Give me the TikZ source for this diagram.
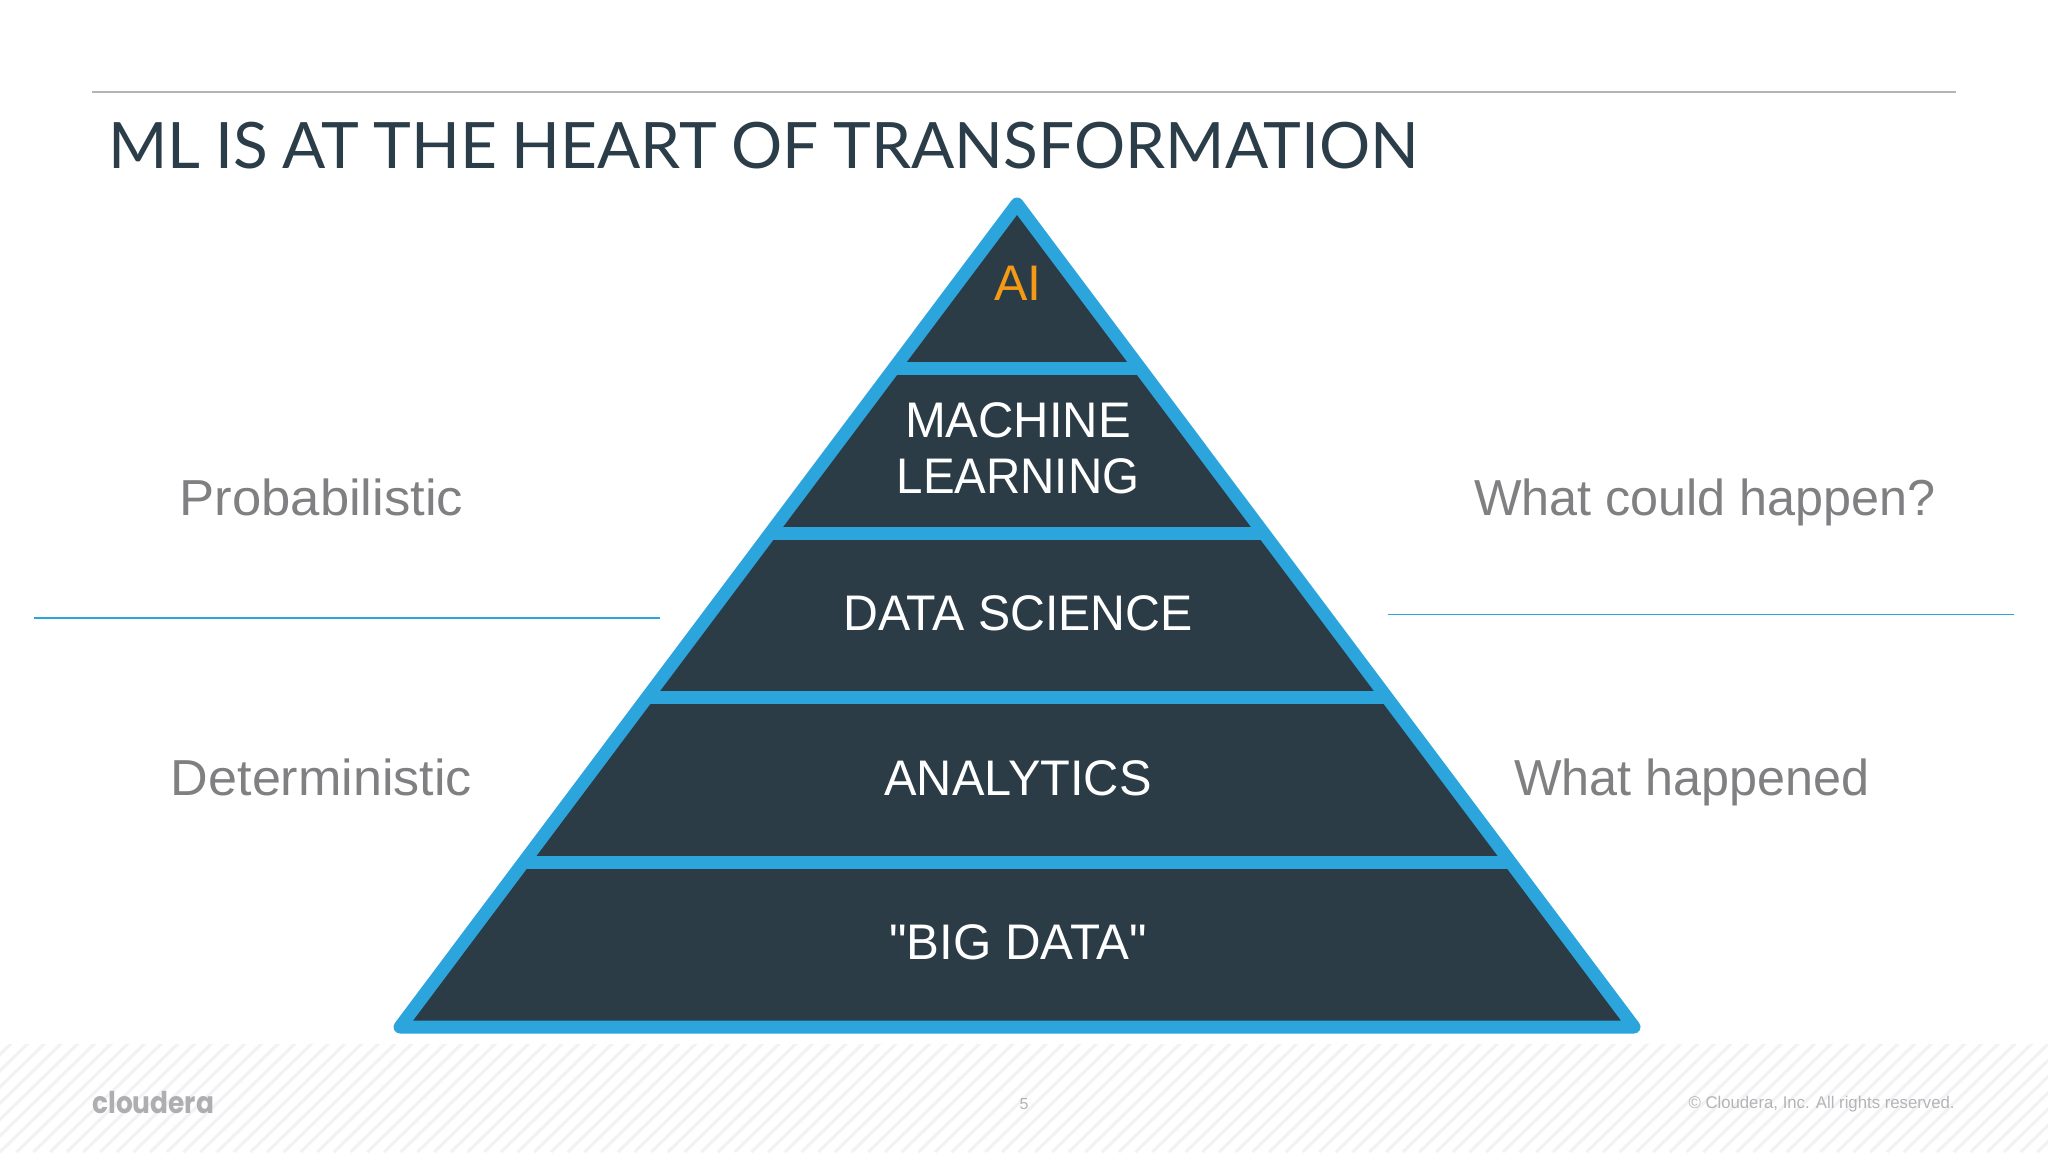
\documentclass[tikz,border=0pt]{standalone}
\usepackage{fontspec}
\usepackage{graphicx}
\setmainfont{Liberation Sans}[Ligatures=NoCommon]
\newfontfamily\bodyfont{Liberation Sans}
\newfontfamily\titlefont{Lato}[WordSpace=0.88]
\newfontfamily\logofont{Poppins}
\definecolor{pyrdark}{HTML}{2B3C47}
\definecolor{pyrblue}{HTML}{2BA5DC}
\definecolor{titlecol}{HTML}{2B3D49}
\definecolor{sidegray}{HTML}{808083}
\definecolor{hatch}{HTML}{F3F1F3}
\definecolor{rulegray}{HTML}{B4B4B4}
\definecolor{aiorange}{HTML}{F49A14}
\definecolor{logogray}{HTML}{AEADB0}
\definecolor{footgray}{HTML}{B4B3B6}
\newcommand{\sx}[2]{\scalebox{#1}[1]{#2}}
\tikzset{
  x=0.5pt,y=-0.5pt,
  tier/.style={text=white,font=\bodyfont\fontsize{25}{28}\selectfont,align=center,inner sep=0pt},
  sidelabel/.style={text=sidegray,font=\bodyfont\fontsize{25.3}{28}\selectfont,inner sep=0pt,anchor=base},
  bluerule/.style={draw=pyrblue,line width=0.65pt},
  bar/.style={draw=pyrblue,line width=6.5pt},
}
\begin{document}
\begin{tikzpicture}
\useasboundingbox (0,0) rectangle (2048,1152);
\fill[white] (0,0) rectangle (2048,1152);
% footer hatch
\begin{scope}
\clip (0,1044) rectangle (2048,1152);
\foreach \k in {-8,...,125}{
  \draw[hatch,line width=1.5pt] ({\k*16.7},1152) -- ({\k*16.7+115},1040);
}
\end{scope}
\draw[rulegray,line width=0.55pt] (92,92) -- (1956,92);
\node[anchor=base west,inner sep=0pt,text=titlecol,font=\titlefont\fontsize{32}{36}\selectfont] (title) at (108,168) {ML IS AT THE HEART OF TRANSFORMATION};
% pyramid
\coordinate (apex) at (1017,204);
\coordinate (bl) at (400,1027);
\coordinate (br) at (1634,1027);
\fill[pyrdark] (apex) -- (bl) -- (br) -- cycle;
\foreach \y in {368.5,533,697.5,862}{
  \draw[bar] ({1017-(\y-204)*0.7497},\y) -- ({1017+(\y-204)*0.7497},\y);
}
\draw[pyrblue,line width=6.5pt,line join=round] (apex) -- (bl) -- (br) -- cycle;
\node[inner sep=0pt,text=aiorange,font=\bodyfont\fontsize{25}{28}\selectfont] (ai) at (1018,283) {AI};
\node[tier] (ml) at (1018,448) {\sx{0.98}{MACHINE}\\\sx{0.95}{LEARNING}};
\node[tier] (ds) at (1018,613) {\sx{0.965}{DATA SCIENCE}};
\node[tier] (an) at (1018,778) {\sx{0.975}{ANALYTICS}};
\node[tier] (bd) at (1018,942) {\sx{0.985}{"BIG DATA"}};
% sides
\node[sidelabel] (p) at (321.5,515) {\sx{1.04}{Probabilistic}};
\node[sidelabel] (d) at (321.5,795) {\sx{1.03}{Deterministic}};
\node[sidelabel] (w) at (1705,515) {\sx{0.995}{What could happen?}};
\node[sidelabel] (h) at (1692,795) {\sx{0.995}{What happened}};
\draw[bluerule] (34,618) -- (660,618);
\draw[bluerule] (1388,614.5) -- (2014,614.5);
% footer
\node[anchor=west,inner sep=0pt,text=logogray,font=\logofont\bfseries\fontsize{15}{16}\selectfont] (logo) at (92,1102) {\sx{0.88}{cloudera}};
\node[inner sep=0pt,text=footgray,font=\bodyfont\fontsize{8}{9}\selectfont] (pg) at (1024,1104) {5};
\node[anchor=east,inner sep=0pt,text=footgray,font=\bodyfont\fontsize{8.5}{9}\selectfont] (copy) at (1955,1104.5) {\sx{0.985}{© Cloudera, Inc. All rights reserved.}};
\end{tikzpicture}
\end{document}
